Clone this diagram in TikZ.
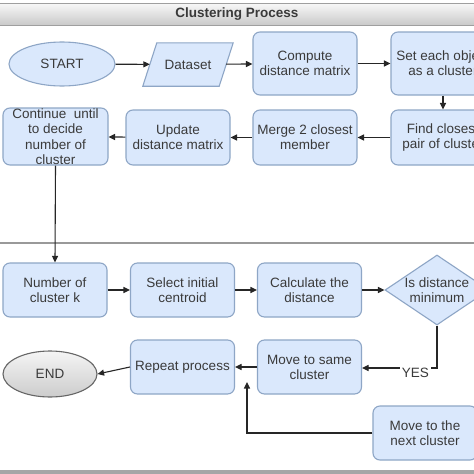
\documentclass[tikz,border=0pt]{standalone}
\usepackage{fontspec}
\setmainfont{Liberation Sans}
\usetikzlibrary{arrows.meta,shapes.geometric}
\definecolor{boxfill}{HTML}{DAE8FC}
\definecolor{boxline}{HTML}{8EA6C6}
\definecolor{txt}{HTML}{3A3A3A}
\newcommand{\lblfont}{\fontsize{13.5}{15}\selectfont}
\tikzset{
  box/.style={draw=boxline, fill=boxfill, line width=1.1pt, rounded corners=7,
    minimum width=104, minimum height=54, inner sep=0, align=center,
    text=txt, font=\lblfont},
  lbl/.style={text=txt, font=\lblfont, align=center, inner sep=0},
  arr/.style={-{Triangle[length=6.5pt,width=6pt]}, line width=1.1pt, black!85},
  ln/.style={line width=1.1pt, black!85},
}
\begin{document}
\begin{tikzpicture}[x=1pt,y=-1pt]
\useasboundingbox (0,0) rectangle (474,474);
\clip (0,0) rectangle (474,474);
\fill[white] (0,0) rectangle (474,474);
% title band
\node[draw=gray!75, line width=1pt, top color=gray!5, bottom color=gray!42,
  minimum width=480, minimum height=22, inner sep=0,
  font=\fontsize{13.5}{15}\selectfont\bfseries, text=txt] (title) at (237,14) {Clustering Process};
% lane separator and bottom frame
\coordinate (sepL) at (-2,243);
\coordinate (sepR) at (476,243);
\draw[gray!80, line width=1.2pt] (sepL) -- (sepR);
\coordinate (botL) at (-2,472);
\coordinate (botR) at (476,472);
\draw[gray!70, line width=3.5pt] (botL) -- (botR);

% upper lane
\node[ellipse, draw=boxline, fill=boxfill, line width=1.1pt, minimum width=106,
  minimum height=44, inner sep=0, text=txt, font=\lblfont] (start) at (62,64) {START};
\node[lbl, minimum width=76, minimum height=43] (ds) at (188,64.5) {Dataset};
\draw[draw=boxline, fill=boxfill, line width=1.1pt]
  ([xshift=7pt]ds.north west) -- ([xshift=7pt]ds.north east)
  -- ([xshift=-7pt]ds.south east) -- ([xshift=-7pt]ds.south west) -- cycle;
\node[lbl] at (ds.center) {Dataset};
\node[box, minimum height=63] (cdm) at (305,63.5) {Compute\\distance matrix};
\node[box, minimum height=63] (seo) at (443,63.5) {Set each object\\as a cluster};
\node[box, minimum height=55] (fcp) at (443,137.5) {Find closest\\pair of cluster};
\node[box, minimum height=55] (m2c) at (305,137.5) {Merge 2 closest\\member};
\node[box, minimum height=55] (udm) at (178,137.5) {Update\\distance matrix};
\node[box, minimum width=105, minimum height=57,
  label={[lbl, align=center, font=\fontsize{13.5}{15.5}\selectfont]center:Continue\ \ until\\to decide\\number of\\cluster}] (cont) at (55.5,136.5) {};

\draw[arr] (start) -- (ds);
\draw[arr] (ds) -- (cdm);
\draw[arr] (cdm) -- (seo);
\draw[arr] (seo) -- (fcp);
\draw[arr] (fcp) -- (m2c);
\draw[arr] (m2c) -- (udm);
\draw[arr] (udm) -- (cont);

% lower lane
\node[box] (nck) at (55,290) {Number of\\cluster k};
\node[box] (sic) at (182.5,290) {Select initial\\centroid};
\node[box] (ctd) at (309.5,290) {Calculate the\\distance};
\node[diamond, draw=boxline, fill=boxfill, line width=1.1pt, minimum width=104,
  minimum height=70, inner sep=0,
  label={[lbl]center:Is distance\\minimum}] (dia) at (437,290) {};
\node[box] (mts) at (309.5,367) {Move to same\\cluster};
\node[box] (rp) at (182.5,367) {Repeat process};
\node[ellipse, draw=gray!80!black, line width=1.1pt, top color=gray!8, bottom color=gray!40,
  minimum width=94, minimum height=46, inner sep=0, text=txt, font=\lblfont] (end) at (50,374) {END};
\node[box] (mnc) at (425,433) {Move to the\\next cluster};

\draw[arr] (cont.south) -- (nck.north);
\draw[arr] (nck) -- (sic);
\draw[arr] (sic) -- (ctd);
\draw[arr] (ctd) -- (dia);
\coordinate (yescorner) at (437,368);
\draw[arr] (dia.south) -- (yescorner) -- (mts.east |- yescorner)
  node[pos=0.29, yshift=-5pt, lbl, fill=white, inner sep=2pt] (yes) {YES};
\draw[arr] (mts.west |- rp.east) -- (rp.east);
\draw[arr] (rp.west) -- (end.east);
\coordinate (nextcorner) at (247,433);
\coordinate (nextend) at (247,382);
\draw[arr] (mnc.west) -- (nextcorner) -- (nextend);
\end{tikzpicture}
\end{document}
